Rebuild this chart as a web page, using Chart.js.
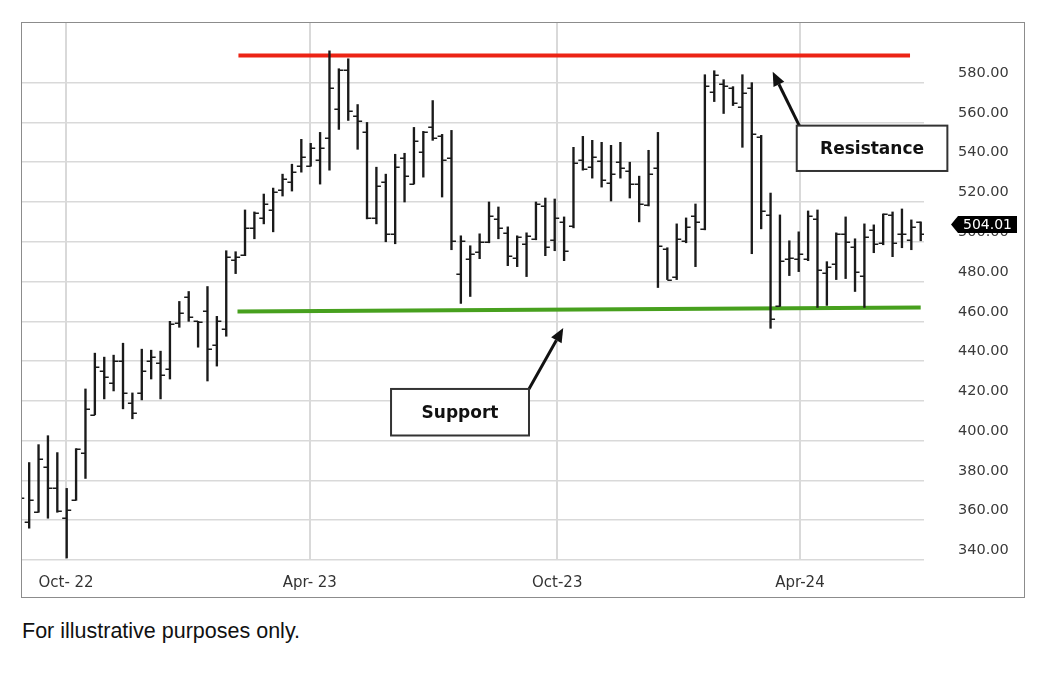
<!DOCTYPE html>
<html>
<head>
<meta charset="utf-8">
<script src="https://cdn.jsdelivr.net/npm/chart.js@4/dist/chart.umd.min.js"></script>
<style>
  html, body { margin: 0; padding: 0; background: #fff; width: 1041px; height: 677px; overflow: hidden; }
  #frame { position: absolute; left: 21px; top: 22px; width: 1004px; height: 576px; border: 1px solid #8c8c8c; box-sizing: border-box; }
  #price { position: absolute; left: 0; top: 0; }
  #note { position: absolute; left: 22px; top: 619px; font: 21.5px "Liberation Sans", Arial, sans-serif; color: #111; }
</style>
</head>
<body>
<div id="frame"><canvas id="price" width="1002" height="574"></canvas></div>
<div id="note">For illustrative purposes only.</div>
<script>
// Weekly OHLC bars, Sep 2022 – Jun 2024 (index 0 = first week shown)
const opens = [
  376, 359, 364, 387, 376, 361, 370, 394, 413, 435,
  429, 440, 419, 424, 440, 439, 436, 459, 472, 460,
  465, 448, 456, 491, 493.5, 507, 512, 516, 526, 530,
  538, 538, 541, 552, 567, 586.5, 563, 555, 512, 530,
  504, 542, 529, 545, 557.5, 553, 542, 484, 491.5, 495,
  500, 511.5, 504.5, 492, 499, 501.5, 518, 501, 510, 508,
  541, 537.5, 540.5, 529.5, 540, 535.5, 529, 518.5, 537, 496.5,
  482.5, 500.5, 513, 506.5, 575.5, 579.5, 577.5, 568, 577.5, 552.5,
  513.5, 467.5, 491.5, 491.5, 491.5, 511.5, 484.5, 489, 504, 497.5,
  483, 506, 499.5, 513.5, 504, 501, 510
];
const highs = [
  381, 389, 398, 402.5, 394, 376, 396, 426, 444, 442,
  443, 449, 424, 446, 445.5, 445, 460, 470, 475, 460,
  477.5, 462.5, 495.5, 495, 516, 515, 524, 527, 534, 539,
  551.5, 549.5, 555, 596, 587, 592, 569, 560, 537.5, 534,
  544, 544.5, 557.5, 555.5, 571, 554, 556, 503, 498, 504,
  520, 517.5, 507.5, 503, 504.5, 520, 522, 521.5, 512.5, 547.5,
  553, 551, 550, 548.5, 550, 540, 533, 546, 555, 497,
  509, 512, 519, 584, 586, 581.5, 578, 584, 580, 553.5,
  524.5, 513.5, 500.5, 505, 515.5, 516, 490, 504.5, 512.5, 501.5,
  509, 508.5, 514, 515, 516.5, 511, 510
];
const lows = [
  366, 356, 364, 361, 364, 341, 370, 381, 413, 421,
  425, 416, 411, 420.5, 431, 421, 431, 457, 460, 447,
  430, 437.5, 452.5, 484, 493, 501.5, 509, 505, 523, 525.5,
  535, 538, 529, 536, 556.5, 561, 546.5, 511.5, 509, 500,
  499, 520, 529, 532.5, 551, 522.5, 496, 469, 472.5, 491.5,
  499.5, 501.5, 488, 487.5, 482.5, 501, 493, 495.5, 490.5, 507,
  536, 532, 527.5, 520.5, 532, 522, 510, 518, 477, 481,
  481, 499.5, 487.5, 506, 570.5, 564.5, 568.5, 547.5, 494, 506.5,
  456.5, 467.5, 483, 485, 490.5, 467, 468, 481, 481.5, 475,
  467, 494.5, 498.5, 492.5, 497, 496, 500.5
];
const closes = [
  371, 370, 391, 376, 364.5, 365, 396, 416, 437, 432,
  440, 424, 414, 435, 442, 433, 458.5, 464, 462, 459.5,
  446, 460, 492.5, 492.5, 507, 514.5, 519, 525, 531.5, 535,
  542.5, 547, 547, 577.5, 586.5, 566, 560.5, 512, 528, 504,
  537.5, 533, 550.5, 555, 552, 541, 500.5, 500.5, 494, 500,
  513, 507, 493, 502.5, 503, 519, 497.5, 512, 495.5, 539.5,
  536.5, 542.5, 531, 534, 537, 529, 519, 534, 498, 481,
  501.5, 507.5, 510, 578.5, 584, 578.5, 570, 575, 554, 515.5,
  461, 490.5, 492, 494, 513, 486, 487.5, 504, 500, 485,
  502.5, 499, 514, 499.5, 504, 507.5, 504.01
];

// Axis ticks
const yTickValues = [340, 360, 380, 400, 420, 440, 460, 480, 500, 520, 540, 560, 580];
const xTickPositions = [4.93, 30.9, 57.27, 83.13];
const xTickLabels = ['Oct- 22', 'Apr- 23', 'Oct-23', 'Apr-24'];

// Trend levels drawn across the range [startWeek, endWeek]
const resistanceLine = [[23.3, 593.6], [94.86, 593.6]];
const supportLine = [[23.2, 465.0], [96.0, 466.9]];

// Callout boxes: [leftWeek, rightWeek, topPrice, bottomPrice], arrows: [fromWeek, fromPrice, toWeek, toPrice]
const supportBox = [39.56, 54.26, 426.0, 402.6];
const supportArrow = [54.26, 426.0, 57.91, 456.6];
const resistanceBox = [82.79, 98.84, 558.4, 535.6];
const resistanceArrow = [83.06, 558.4, 80.23, 585.5];

const lastPrice = closes[closes.length - 1];
const FONT = '"DejaVu Sans", Verdana, sans-serif';

const weekIndex = opens.map((_, i) => i);

// Open (left) and close (right) ticks on each bar
const ohlcTicks = {
  id: 'ohlcTicks',
  afterDatasetsDraw(chart) {
    const { ctx, chartArea: a, scales: { x, y } } = chart;
    ctx.save();
    ctx.beginPath();
    ctx.rect(a.left, a.top, a.right - a.left, a.bottom - a.top);
    ctx.clip();
    ctx.strokeStyle = '#1a1a1a';
    ctx.lineWidth = 1.5;
    weekIndex.forEach(i => {
      const px = x.getPixelForValue(i);
      const yo = Math.round(y.getPixelForValue(opens[i])) + 0.25;
      const yc = Math.round(y.getPixelForValue(closes[i])) + 0.25;
      ctx.beginPath();
      ctx.moveTo(px - 4.5, yo); ctx.lineTo(px, yo);
      ctx.moveTo(px, yc); ctx.lineTo(px + 4.5, yc);
      ctx.stroke();
    });
    ctx.restore();
  }
};

function drawArrow(ctx, x0, y0, x1, y1) {
  const ang = Math.atan2(y1 - y0, x1 - x0);
  const headLen = 14, headHalf = 6;
  const bx = x1 - headLen * Math.cos(ang), by = y1 - headLen * Math.sin(ang);
  ctx.strokeStyle = '#111';
  ctx.fillStyle = '#111';
  ctx.lineWidth = 3;
  ctx.beginPath();
  ctx.moveTo(x0, y0); ctx.lineTo(bx, by);
  ctx.stroke();
  ctx.beginPath();
  ctx.moveTo(x1, y1);
  ctx.lineTo(bx + headHalf * Math.sin(ang), by - headHalf * Math.cos(ang));
  ctx.lineTo(bx - headHalf * Math.sin(ang), by + headHalf * Math.cos(ang));
  ctx.closePath();
  ctx.fill();
}

function drawBox(ctx, x, y, box, text) {
  const l = x.getPixelForValue(box[0]), r = x.getPixelForValue(box[1]);
  const t = y.getPixelForValue(box[2]), b = y.getPixelForValue(box[3]);
  ctx.fillStyle = '#fff';
  ctx.fillRect(l, t, r - l, b - t);
  ctx.strokeStyle = '#333';
  ctx.lineWidth = 2;
  ctx.strokeRect(l, t, r - l, b - t);
  ctx.fillStyle = '#111';
  ctx.font = 'bold 17px ' + FONT;
  ctx.textAlign = 'center';
  ctx.textBaseline = 'middle';
  ctx.fillText(text, (l + r) / 2, (t + b) / 2 + 1);
}

// Callouts and the last-price flag on the price axis
const callouts = {
  id: 'callouts',
  afterDraw(chart) {
    const { ctx, scales: { x, y } } = chart;
    ctx.save();
    drawArrow(ctx, x.getPixelForValue(supportArrow[0]), y.getPixelForValue(supportArrow[1]),
                   x.getPixelForValue(supportArrow[2]), y.getPixelForValue(supportArrow[3]));
    drawBox(ctx, x, y, supportBox, 'Support');
    drawArrow(ctx, x.getPixelForValue(resistanceArrow[0]), y.getPixelForValue(resistanceArrow[1]),
                   x.getPixelForValue(resistanceArrow[2]), y.getPixelForValue(resistanceArrow[3]));
    drawBox(ctx, x, y, resistanceBox, 'Resistance');

    // last price flag
    const cy = Math.round(y.getPixelForValue(lastPrice) - 9.5) + 0.5;
    const tip = y.left + 27, body = y.left + 34, right = y.left + 93, h = 8.5;
    ctx.fillStyle = '#000';
    ctx.beginPath();
    ctx.moveTo(tip, cy);
    ctx.lineTo(body, cy - h);
    ctx.lineTo(right, cy - h);
    ctx.lineTo(right, cy + h);
    ctx.lineTo(body, cy + h);
    ctx.closePath();
    ctx.fill();
    ctx.fillStyle = '#fff';
    ctx.font = '14px ' + FONT;
    ctx.textAlign = 'center';
    ctx.textBaseline = 'middle';
    ctx.fillText(lastPrice.toFixed(2), (body + right) / 2, cy + 0.5);
    ctx.restore();
  }
};

new Chart(document.getElementById('price'), {
  type: 'bar',
  data: {
    datasets: [
      {
        type: 'bar',
        data: weekIndex.map(i => ({ x: i, y: [lows[i], highs[i]] })),
        backgroundColor: '#1a1a1a',
        borderWidth: 0,
        barThickness: 1.7,
        order: 1
      },
      {
        type: 'line',
        data: resistanceLine.map(p => ({ x: p[0], y: p[1] })),
        borderColor: '#ec2415',
        borderWidth: 4,
        pointRadius: 0,
        order: 2
      },
      {
        type: 'line',
        data: supportLine.map(p => ({ x: p[0], y: p[1] })),
        borderColor: '#47a01e',
        borderWidth: 4,
        pointRadius: 0,
        order: 2
      }
    ]
  },
  options: {
    responsive: false,
    animation: false,
    events: [],
    layout: { padding: 0 },
    plugins: { legend: { display: false }, tooltip: { enabled: false } },
    scales: {
      x: {
        type: 'linear',
        min: 0.237,
        max: 96.35,
        offset: false,
        afterBuildTicks: s => { s.ticks = xTickPositions.map(v => ({ value: v })); },
        afterFit: s => { s.height = 37; s.paddingLeft = 0; s.paddingRight = 0; },
        ticks: {
          autoSkip: false,
          maxRotation: 0,
          padding: 14,
          color: '#333',
          font: { family: FONT, size: 15 },
          callback: (v, i) => xTickLabels[i]
        },
        grid: { color: '#d9d9d9', lineWidth: 2, drawTicks: false, offset: false },
        border: { display: false }
      },
      y: {
        type: 'linear',
        position: 'right',
        min: 340,
        max: 610,
        afterBuildTicks: s => { s.ticks = yTickValues.map(v => ({ value: v })); },
        afterFit: s => { s.width = 100; s.paddingTop = 0; s.paddingBottom = 0; },
        ticks: {
          padding: 34,
          labelOffset: -9.5,
          color: '#3a3a3a',
          font: { family: FONT, size: 14.5 },
          callback: v => Number(v).toFixed(2)
        },
        grid: { color: '#d9d9d9', lineWidth: 1.5, drawTicks: false },
        border: { display: false }
      }
    }
  },
  plugins: [ohlcTicks, callouts]
});
</script>
</body>
</html>
